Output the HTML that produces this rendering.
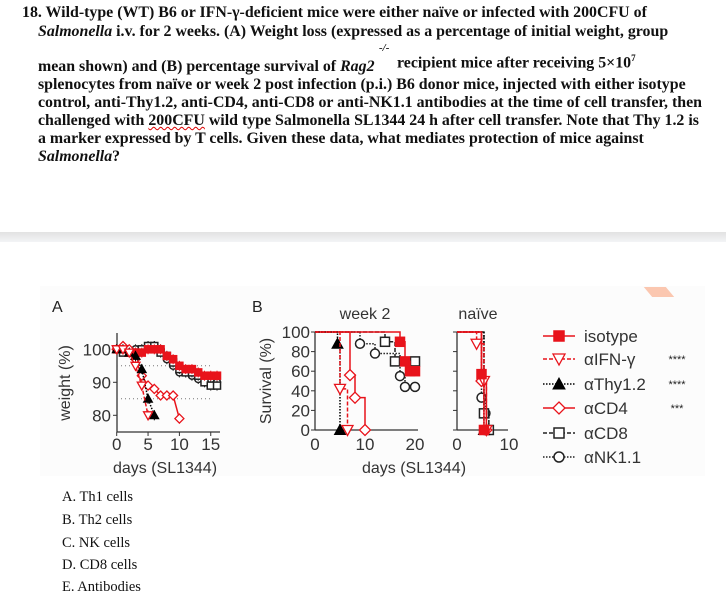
<!DOCTYPE html>
<html><head><meta charset="utf-8">
<style>
body{margin:0;width:726px;height:600px;background:#fff;position:relative;overflow:hidden;font-family:"Liberation Serif",serif;}
.q{position:absolute;font-weight:bold;font-size:15.9px;color:#111;white-space:nowrap;}
.ans{position:absolute;left:62px;font-size:14.5px;color:#111;}
svg text{font-family:"Liberation Sans",sans-serif;}
</style></head><body>
<div>
<div class="q" style="left:22px;top:4px">18. Wild-type (WT) B6 or IFN-γ-deficient mice were either naïve or infected with 200CFU of</div>
<div class="q" style="left:38px;top:23px"><i>Salmonella</i> i.v. for 2 weeks. (A) Weight loss (expressed as a percentage of initial weight, group</div>
<div class="q" style="left:379px;top:42px;font-size:11px"><i>-/-</i></div>
<div class="q" style="left:38px;top:58px">mean shown) and (B) percentage survival of <i>Rag2</i></div>
<div class="q" style="left:397px;top:53px">recipient mice after receiving 5×10<sup style="font-size:9px">7</sup></div>
<div class="q" style="left:38px;top:76px">splenocytes from naïve or week 2 post infection (p.i.) B6 donor mice, injected with either isotype</div>
<div class="q" style="left:38px;top:94px">control, anti-Thy1.2, anti-CD4, anti-CD8 or anti-NK1.1 antibodies at the time of cell transfer, then</div>
<div class="q" style="left:38px;top:112px">challenged with <span style="text-decoration:underline wavy #d00;text-decoration-thickness:1px">200CFU</span> wild type Salmonella SL1344 24 h after cell transfer. Note that Thy 1.2 is</div>
<div class="q" style="left:38px;top:130px">a marker expressed by T cells. Given these data, what mediates protection of mice against</div>
<div class="q" style="left:38px;top:148px"><i>Salmonella</i>?</div>
</div>
<div style="position:absolute;left:0;top:232px;width:726px;height:10px;background:linear-gradient(#e2e2e2,#f3f4f6)"></div>
<div style="position:absolute;left:40px;top:286px;width:665px;height:190px;background:#fcfcfc"></div>
<div style="position:absolute;left:648px;top:287px;width:22px;height:10px;background:#fbc7b0;transform:skewX(40deg)"></div>
<svg id="fig" width="726" height="600" style="position:absolute;left:0;top:0"></svg>
<div>
<div class="ans" style="top:489px">A. Th1 cells</div>
<div class="ans" style="top:512px">B. Th2 cells</div>
<div class="ans" style="top:535px">C. NK cells</div>
<div class="ans" style="top:557px">D. CD8 cells</div>
<div class="ans" style="top:579px">E. Antibodies</div>
</div>
<script>
// Panel A weight data (days, %)
const daysA=[0,1,2,3,4,5,6,7,8,9,10,11,12,13,14,15,16];
const wIsotype=[100,100,99,99,99,100,100,100,98,97,95,94,94,93,92,92,92];
const wCD8=[100,99,99,99,100,101,101,99,98,96,94,93,93,92,90,89,89];
const wNK=[100,100,99,100,100,101,101,100,97,95,93,93,92,91,91,91,90];
const daysIFN=[0,1,2,3,4,5];const wIFN=[100,100,99,95,89,80];
const daysThy=[0,1,2,3,4,5,6];const wThy=[100,100,99,98,94,85,80];
const daysCD4=[0,1,2,3,4,5,6,7,8,9,10];const wCD4=[100,101,100,97,92,89,88,86,86,86,79];
const ticksAx=[0,5,10,15];const ticksAy=[80,90,100];
// Panel B survival (step) data
const tIsoW=[0,17,18,19,20];const sIsoW=[100,90,70,60,60];
const tCD8W=[0,14,16,20];const sCD8W=[100,90,70,70];
const tNKW=[0,9,12,17,18,20];const sNKW=[100,88,78,55,44,44];
const tIFNW=[0,5,6.5];const sIFNW=[100,42,0];
const tThyW=[0,4.5,5];const sThyW=[100,88,0];
const tCD4W=[0,7,8,10];const sCD4W=[100,56,33,0];
const tIsoN=[0,5,5.5];const sIsoN=[100,57,0];
const tIFNN=[0,4,5.5,6];const sIFNN=[100,88,50,0];
const tThyN=[0,5.5];const sThyN=[100,0];
const tCD4N=[0,5,6];const sCD4N=[100,50,0];
const tCD8N=[0,5.5,6.5];const sCD8N=[100,17,0];
const tNKN=[0,5,5.8,6.5];const sNKN=[100,33,17,0];
const ticksBy=[0,20,40,60,80,100];const ticksBxW=[0,10,20];const ticksBxN=[0,10];

const svg=document.getElementById('fig');const NS='http://www.w3.org/2000/svg';
function el(t,a,name){const e=document.createElementNS(NS,t);for(const k in a)e.setAttribute(k,a[k]);


svg.appendChild(e);return e;}
function txt(x,y,s,opt,name){const e=el('text',Object.assign({x:x,y:y,'font-size':17,fill:'#333'},opt||{}),name);e.textContent=s;return e;}
const RED='#e8131b';
const styles={iso:{c:RED,d:'',m:'sq',f:RED},ifn:{c:RED,d:'4,2',m:'tri-d',f:'#fff'},thy:{c:'#000',d:'1.5,1.5',m:'tri',f:'#000'},
cd4:{c:RED,d:'',m:'dia',f:'#fff'},cd8:{c:'#222',d:'4,2',m:'sq',f:'#fff'},nk:{c:'#222',d:'1.5,1.5',m:'circ',f:'#fff'}};
function marker(x,y,st,r,name){r=r||4;let e;
if(st.m==='sq')e=el('rect',{x:x-r,y:y-r,width:2*r,height:2*r,fill:st.f,stroke:st.c,'stroke-width':1.5},name);
else if(st.m==='circ')e=el('circle',{cx:x,cy:y,r:r,fill:st.f,stroke:st.c,'stroke-width':1.5},name);
else if(st.m==='tri')e=el('polygon',{points:`${x},${y-r-1} ${x-r-1},${y+r} ${x+r+1},${y+r}`,fill:st.f,stroke:st.c},name);
else if(st.m==='tri-d')e=el('polygon',{points:`${x},${y+r+1} ${x-r-1},${y-r} ${x+r+1},${y-r}`,fill:st.f,stroke:st.c,'stroke-width':1.3},name);
else e=el('polygon',{points:`${x},${y-r-1} ${x+r+1},${y} ${x},${y+r+1} ${x-r-1},${y}`,fill:st.f,stroke:st.c,'stroke-width':1.3},name);
return e;}
// Panel A
const ax=d=>116.7+d*6.27, ay=v=>349.3+(100-v)*3.3;
txt(52,312,'A',{'font-size':16,fill:'#222'},'panel-a-label');
el('line',{x1:117,y1:333,x2:117,y2:432,stroke:'#333','stroke-width':1.3},'y-axis-a');
el('line',{x1:117,y1:432,x2:220,y2:432,stroke:'#333','stroke-width':1.3},'x-axis-a');
ticksAy.forEach(v=>{el('line',{x1:113,y1:ay(v),x2:117,y2:ay(v),stroke:'#333'},'y-tick-a');txt(111,ay(v)+6,v,{'text-anchor':'end'},'y-tick-label-a');});
[85,95].forEach(v=>el('line',{x1:117,y1:ay(v),x2:213,y2:ay(v),stroke:'#777','stroke-dasharray':'1,3'},'reference-line'));
ticksAx.forEach(v=>{el('line',{x1:ax(v),y1:432,x2:ax(v),y2:436,stroke:'#333'},'x-tick-a');txt(ax(v),450,v,{'text-anchor':'middle'},'x-tick-label-a');});
txt(165,473,'days (SL1344)',{'text-anchor':'middle','font-size':16},'x-axis-title-a');
txt(0,0,'weight (%)',{'text-anchor':'middle','font-size':16,transform:'translate(70,383) rotate(-90)'},'y-axis-title-a');
function lineA(xs,ys,st,name){el('polyline',{points:xs.map((d,i)=>ax(d)+','+ay(ys[i])).join(' '),fill:'none',stroke:st.c,'stroke-width':1.5,'stroke-dasharray':st.d},name+'-line');
xs.forEach((d,i)=>{if(i>2){el('line',{x1:ax(d),y1:ay(ys[i])-5,x2:ax(d),y2:ay(ys[i])+5,stroke:st.c,'stroke-width':1},name+'-errorbar');}marker(ax(d),ay(ys[i]),st,3.5,name+'-point');});}
lineA(daysA,wNK,styles.nk,'weight-nk11');lineA(daysA,wCD8,styles.cd8,'weight-cd8');lineA(daysA,wIsotype,styles.iso,'weight-isotype');
lineA(daysCD4,wCD4,styles.cd4,'weight-cd4');lineA(daysThy,wThy,styles.thy,'weight-thy12');lineA(daysIFN,wIFN,styles.ifn,'weight-ifng');
// Panel B
const by=v=>430-v*0.98;
const bxW=d=>315+d*5.0, bxN=d=>457+d*4.9;
txt(252,312,'B',{'font-size':16,fill:'#222'},'panel-b-label');
txt(365,319,'week 2',{'text-anchor':'middle','font-size':16},'week2-title');
txt(478,319,'naïve',{'text-anchor':'middle','font-size':16},'naive-title');
el('line',{x1:315,y1:332,x2:315,y2:430,stroke:'#333','stroke-width':1.3},'y-axis-b');
el('line',{x1:315,y1:430,x2:418,y2:430,stroke:'#333','stroke-width':1.3},'x-axis-b-week2');
el('line',{x1:457,y1:332,x2:457,y2:430,stroke:'#333','stroke-width':1.3},'y-axis-b-naive');
el('line',{x1:457,y1:430,x2:508,y2:430,stroke:'#333','stroke-width':1.3},'x-axis-b-naive');
ticksBy.forEach(v=>{el('line',{x1:311,y1:by(v),x2:315,y2:by(v),stroke:'#333'},'y-tick-b');el('line',{x1:453,y1:by(v),x2:457,y2:by(v),stroke:'#333'},'y-tick-b-naive');txt(310,by(v)+6,v,{'text-anchor':'end'},'y-tick-label-b');});
ticksBxW.forEach(v=>txt(bxW(v),450,v,{'text-anchor':'middle'},'x-tick-label-b-week2'));
ticksBxN.forEach(v=>txt(bxN(v)+(v?3:0),450,v,{'text-anchor':'middle'},'x-tick-label-b-naive'));
txt(414,473,'days (SL1344)',{'text-anchor':'middle','font-size':16},'x-axis-title-b');
txt(0,0,'Survival (%)',{'text-anchor':'middle','font-size':16,transform:'translate(271,381) rotate(-90)'},'y-axis-title-b');
function step(xf,ts,ss,st,name){let p=[];for(let i=0;i<ts.length;i++){if(i>0)p.push(xf(ts[i])+','+by(ss[i-1]));p.push(xf(ts[i])+','+by(ss[i]));}
el('polyline',{points:p.join(' '),fill:'none',stroke:st.c,'stroke-width':1.5,'stroke-dasharray':st.d},name+'-line');
ts.forEach((t,i)=>{if(i>0)marker(xf(t),by(ss[i]),st,4.5,name+'-point');});}
step(bxW,tNKW,sNKW,styles.nk,'survival-week2-nk11');step(bxW,tCD8W,sCD8W,styles.cd8,'survival-week2-cd8');step(bxW,tIsoW,sIsoW,styles.iso,'survival-week2-isotype');
step(bxW,tCD4W,sCD4W,styles.cd4,'survival-week2-cd4');step(bxW,tThyW,sThyW,styles.thy,'survival-week2-thy12');step(bxW,tIFNW,sIFNW,styles.ifn,'survival-week2-ifng');
step(bxN,tNKN,sNKN,styles.nk,'survival-naive-nk11');step(bxN,tCD8N,sCD8N,styles.cd8,'survival-naive-cd8');step(bxN,tThyN,sThyN,styles.thy,'survival-naive-thy12');
step(bxN,tCD4N,sCD4N,styles.cd4,'survival-naive-cd4');step(bxN,tIFNN,sIFNN,styles.ifn,'survival-naive-ifng');step(bxN,tIsoN,sIsoN,styles.iso,'survival-naive-isotype');
// Legend
const legNames=['isotype','αIFN-γ','αThy1.2','αCD4','αCD8','αNK1.1'];
const legKeys=['iso','ifn','thy','cd4','cd8','nk'];
const legStars=['','****','****','***','',''];
const legY=[336,359,384,408,433,457];
legNames.forEach((n,i)=>{const st=styles[legKeys[i]],y=legY[i];
el('line',{x1:543,y1:y,x2:575,y2:y,stroke:st.c,'stroke-width':1.5,'stroke-dasharray':st.d},'legend-line-'+legKeys[i]);
marker(559,y,st,5,'legend-marker-'+legKeys[i]);
txt(584,y+6,n,{'font-size':17},'legend-entry-'+legKeys[i]);
if(legStars[i])txt(677,y+4,legStars[i],{'font-size':11,'text-anchor':'middle',fill:'#222'},'legend-significance-'+legKeys[i]);});
</script>
</body></html>
